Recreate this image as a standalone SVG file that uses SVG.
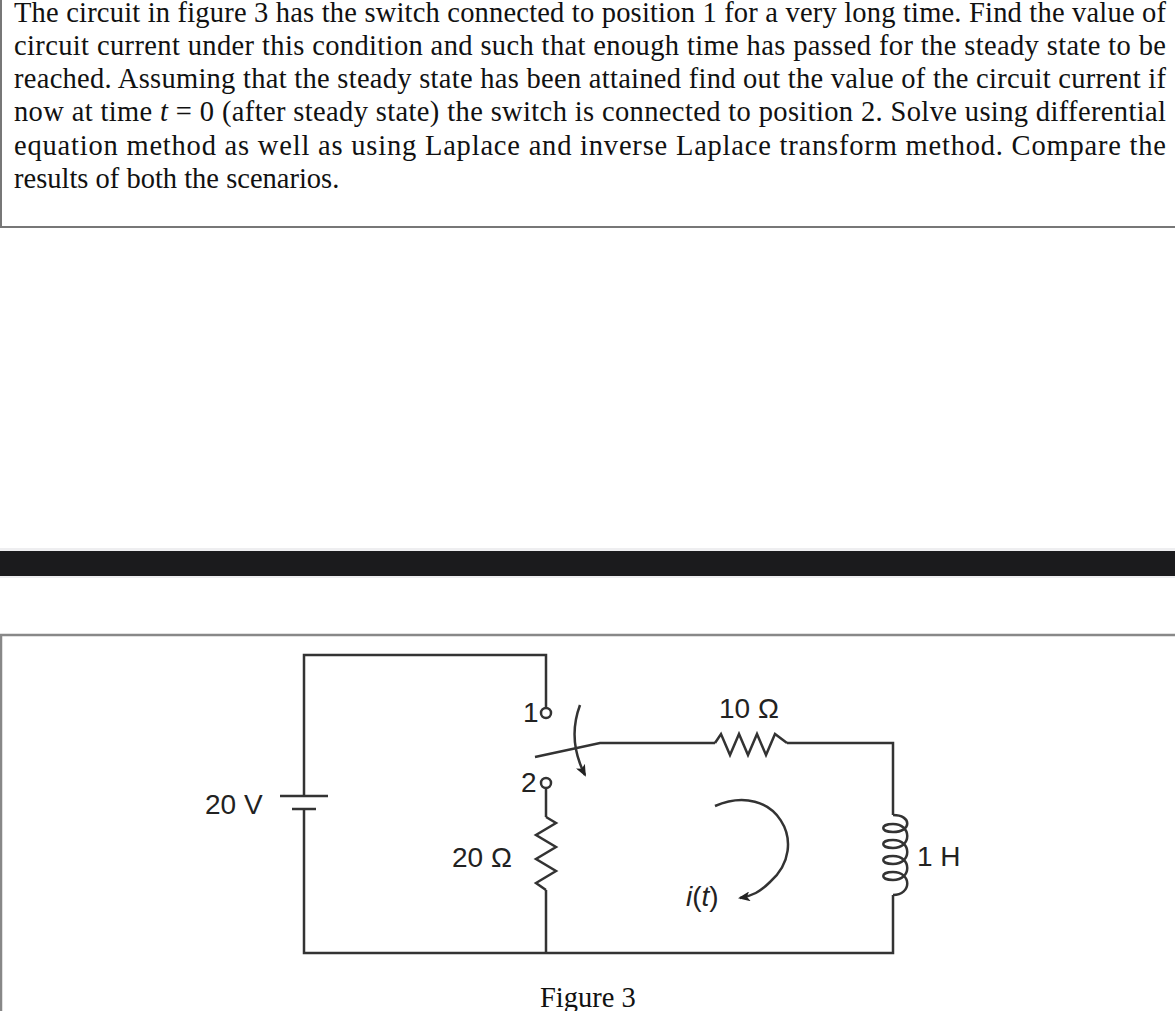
<svg xmlns="http://www.w3.org/2000/svg" width="1175" height="1011" viewBox="0 0 1175 1011">
<style>
.p{font-family:"Liberation Serif",serif;font-size:28.5px;fill:#111}
.l{font-family:"Liberation Sans",Arial,sans-serif;font-size:28px;fill:#222}
.w{fill:none;stroke:#333;stroke-width:2.5;stroke-linejoin:miter}
</style>
<defs><marker id="ah" markerWidth="12" markerHeight="10" refX="10" refY="5" orient="auto" markerUnits="userSpaceOnUse"><path d="M0,0 L12,5 L0,10 L3,5 Z" fill="#222"/></marker></defs>
<rect width="1175" height="1011" fill="#fff"/>
<path d="M1,0 V227 H1175" fill="none" stroke="#777" stroke-width="2"/>
<g class="p">
<text x="14" y="22" textLength="1152" lengthAdjust="spacing">The circuit in figure 3 has the switch connected to position 1 for a very long time. Find the value of</text>
<text x="14" y="55" textLength="1152" lengthAdjust="spacing">circuit current under this condition and such that enough time has passed for the steady state to be</text>
<text x="14" y="88" textLength="1152" lengthAdjust="spacing">reached. Assuming that the steady state has been attained find out the value of the circuit current if</text>
<text x="14" y="121" textLength="1152" lengthAdjust="spacing">now at time <tspan font-style="italic">t</tspan> = 0 (after steady state) the switch is connected to position 2. Solve using differential</text>
<text x="14" y="155" textLength="1152" lengthAdjust="spacing">equation method as well as using Laplace and inverse Laplace transform method. Compare the</text>
<text x="14" y="188">results of both the scenarios.</text>
</g>
<rect x="0" y="548" width="1175" height="30" fill="#eeeef0"/>
<rect x="0" y="551" width="1175" height="25" fill="#1b1b1d"/>
<path d="M1,1011 V635 H1175" fill="none" stroke="#888" stroke-width="2.5"/>
<g id="connectors" class="w">
<path d="M304,796 V655 H546 V708"/>
<path d="M304,809 V953 H893 V895"/>
<path d="M546,788 V817 M546,890 V953"/>
<path d="M535,757 L600,743 H715 M787,743 H893 V815"/>
</g>
<g id="battery"><path d="M280,796 H328" stroke="#333" stroke-width="2.5"/><path d="M292,809 H316" stroke="#333" stroke-width="2.5"/><text class="l" x="205" y="814">20 V</text></g>
<g id="switch" class="w"><circle cx="546" cy="713" r="5" fill="#fff"/><circle cx="546" cy="783" r="5" fill="#fff"/>
<path d="M580,705 Q567,740 585,775" marker-end="url(#ah)"/>
<text class="l" x="523" y="722" stroke="none">1</text><text class="l" x="521" y="792" stroke="none">2</text></g>
<g id="r20"><path class="w" d="M546,817 L556,823 L536,835 L556,847 L536,859 L556,871 L536,883 L546,890"/><text class="l" x="452" y="867">20 Ω</text></g>
<g id="r10"><path class="w" d="M715,743 L721,734 L730,755 L739,734 L748,755 L757,734 L766,755 L775,734 L787,743"/><text class="l" x="719" y="718">10 Ω</text></g>
<g id="ind"><path class="w" d="M893,815 C912,815 912,832 893,832 C880,832 880,824 893,824 C912,824 912,848 893,848 C880,848 880,840 893,840 C912,840 912,864 893,864 C880,864 880,856 893,856 C912,856 912,880 893,880 C880,880 880,872 893,872 C912,872 912,895 893,895"/><text class="l" x="917" y="866">1 H</text></g>
<g id="loop"><path class="w" d="M715,806 C775,780 812,845 770,882 C760,892 752,896 740,898" marker-end="url(#ah)"/><text class="l" x="686" y="906"><tspan font-style="italic">i</tspan>(<tspan font-style="italic">t</tspan>)</text></g>
<text x="540" y="1007" style="font-family:'Liberation Serif',serif;font-size:28.5px;fill:#111">Figure 3</text>
</svg>
